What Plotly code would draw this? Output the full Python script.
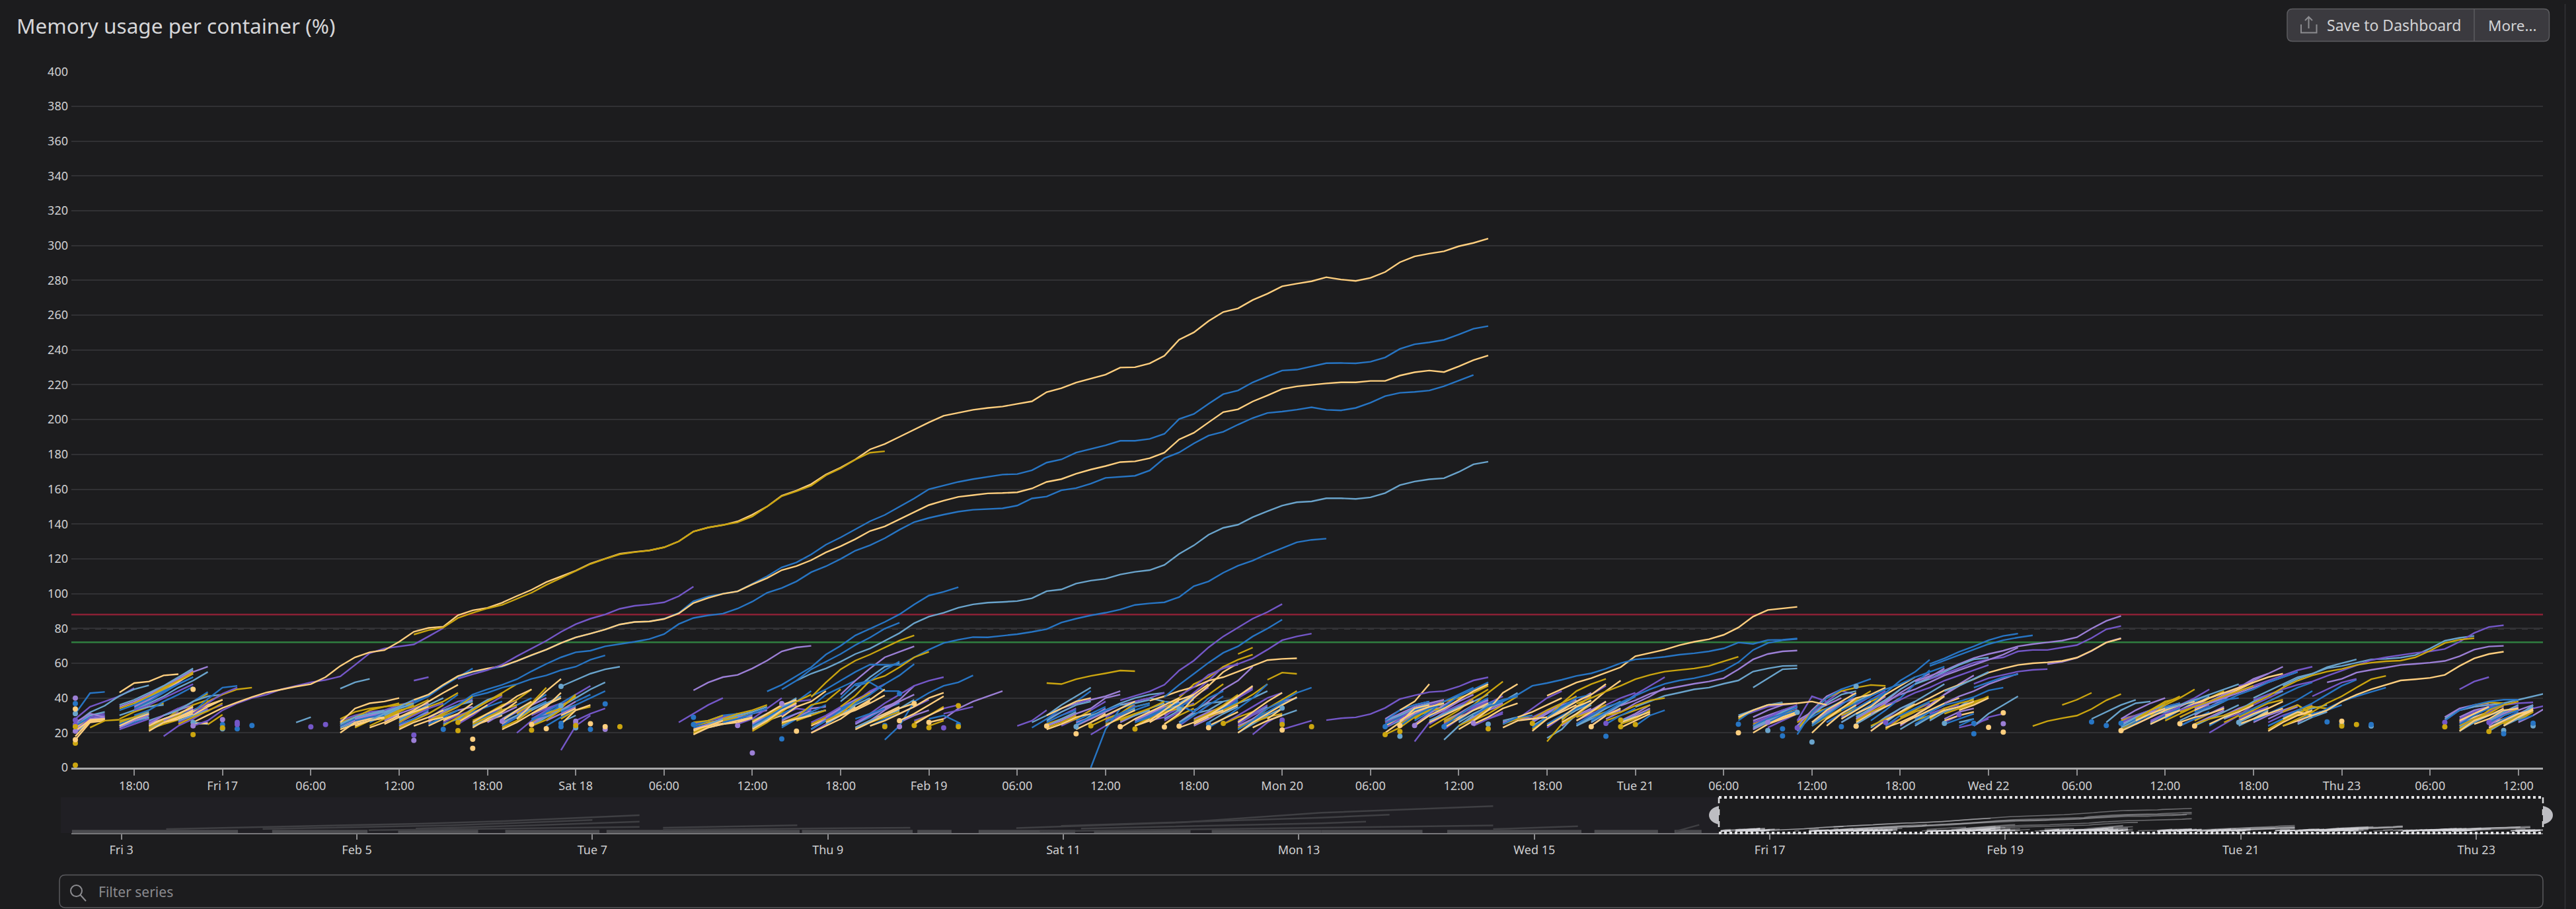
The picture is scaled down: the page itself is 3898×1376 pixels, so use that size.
import pandas as pd
import plotly.graph_objects as go

W, H = 3898, 1376

# every series: (start hour counted from Feb 16 00:00, hourly values in %)
yellow_long = [
    (22, [26, 30, 34.3, 37.5, 40.6, 43.2, 45, 46.6, 48, 52, 58.4, 63.4, 66.3, 67.5, 72.3, 78.1, 80.3, 81, 87.6, 90.4,
          91.8, 94.8, 98.6, 102.2, 106.6, 110, 113.2, 117.3, 120.1, 122.9, 124, 124.8, 126.6, 130, 135.7, 138, 139.4,
          141.5, 145.4, 150, 156.3, 159.2, 162.9, 168.4, 172.4, 177.1, 182.9, 186, 190.1, 194.3, 198.4, 202.2, 203.8,
          205.6, 206.7, 207.5, 209, 210.5, 215.8, 218, 221.3, 223.5, 225.8, 229.9, 230.1, 232.3, 236.7, 245.9, 250.1,
          256.6, 261.8, 263.9, 268.7, 272.3, 276.6, 278.1, 279.5, 281.8, 280.5, 279.7, 281.4, 284.8, 290.4, 293.8,
          295.4, 296.7, 299.6, 301.5, 304]),
    (37, [39, 42, 47.6, 52.6, 55.2, 57, 58.4, 61.3, 64.7, 67.8, 71.6, 74.8, 77, 79.4, 82.3, 83.7, 84, 85.4, 88.6, 94.6,
          97.5, 99.9, 101.3, 105.3, 108.9, 113.5, 115.8, 119.2, 123.7, 127.2, 131.3, 136, 138.6, 142.7, 147.1, 150.9,
          153.4, 155.6, 156.6, 157.6, 157.8, 158.2, 160.4, 164.2, 165.8, 168.9, 171.3, 173.3, 175.6, 176, 177.8, 181,
          188.6, 192.4, 198.4, 204.3, 205.9, 210.4, 213.9, 217.6, 219.1, 220, 220.8, 221.4, 221.4, 222.2, 222.2,
          225.3, 227.2, 228.2, 227.3, 230.6, 234.2, 236.8]),
    (87, [38.5, 41, 44, 46.3, 50, 52, 55.2, 58.4, 61.8, 62.5, 62.8]),
    (114, [41.3, 45, 48.9, 51.4, 54.6, 57.7, 64, 66, 67.8, 70.4, 72.3, 73.8, 76.3, 80.5, 86.8, 90.6, 91.6, 92.4]),
    (139, [36, 40, 44.4, 47.6, 50.8, 54.6, 57, 59, 60, 60.5, 61.3, 63.2, 67.2, 71.9, 74.2]),
    (164, [24, 27, 30, 33, 38.1, 41.9, 45, 47.6, 50.1, 50.8, 51.6, 53.3, 58.4, 62.8, 65.3, 66.6]),
    (158, [37, 40, 43, 46, 49, 52, 54]),
]
gold_long = [
    (22, [31, 38, 42, 45, 46]),
    (37, [76.5, 79, 80.5, 86, 89, 91.5, 93.5, 97, 100.5, 105, 109, 113, 117, 120, 122.6, 123.8, 124.8, 126.6, 130,
          135.7, 138, 139.4, 141, 144.4, 150, 156, 158.8, 162, 168, 172, 177, 181, 181.8]),
    (80, [48.6, 48, 50.8, 52.7, 54.2, 55.8, 55.4]),
    (95, [50.5, 54.6, 53.9]),
    (93, [65.3, 69]),
    (116, [36.8, 40, 43.8, 47, 50.8, 53.3, 55.2, 56.1, 57, 58.4, 60.9, 63.7]),
    (118, [29.9, 31.8, 35.6, 38.7, 40]),
    (147, [23.9, 26.7, 28.4, 29.9, 33.7, 38.7, 42.3]),
    (158, [25, 28, 30, 33, 37, 41, 46, 50, 53, 55.2, 56.7, 59, 60.3, 61.1, 61.5, 63.4, 67.2, 71.6, 73.5, 74.4]),
    (164, [24, 28, 32, 37, 41, 46, 50.8, 52.7]),
    (64, [40.6, 48.9, 56.5, 61.5, 65, 69, 73, 76]),
    (66, [35, 41.3, 50, 52.7, 57.7, 63.4, 66.6]),
    (17, [34, 37, 41, 45, 50, 54]),
    (157, [32, 35, 38, 41, 44, 47]),
]
blue_long = [
    (37, [37, 41, 47, 52, 55, 56.6, 58, 61.3, 64.7, 67.8, 71.6, 74.8, 77, 79.4, 82.3, 83.7, 84, 85.6, 88.9, 95.6, 98.4,
          100, 101.3, 105.7, 110, 115.1, 117.9, 122.5, 128.1, 132.3, 136.8, 141.6, 145.2, 149.9, 154.7, 160, 162,
          164.2, 165.8, 167.2, 168.4, 168.7, 170.9, 175.3, 177.1, 181, 183.2, 185.2, 187.8, 187.8, 188.9, 191.8,
          200.3, 203.2, 209.1, 214.6, 216.7, 221.4, 224.9, 228.2, 228.7, 230.5, 232.4, 232.5, 232.3, 233.2, 235.7,
          240.6, 243.3, 244.4, 245.8, 248.9, 252.2, 253.7]),
    (40, [36, 42, 45, 47.6, 50.8, 55.4, 59.6, 63.4, 66.3, 67.2, 69.7, 71, 72.3, 73.9, 76.7, 82.5, 86, 87.5, 88.5, 91.4,
          95.4, 100.5, 103.2, 107, 112.3, 115.7, 119.9, 124.7, 127.8, 131.8, 136.7, 141.1, 143.5, 145.4, 147.1, 148.2,
          148.7, 149, 150.6, 154.7, 155.8, 159.4, 160.6, 163.2, 166.5, 167.1, 167.7, 170.8, 177.8, 181.1, 186.3,
          190.8, 193, 197.1, 200.9, 203.8, 204.6, 205.7, 207.1, 205.6, 205.3, 206.7, 209.7, 213.5, 215.4, 215.9,
          216.7, 219.2, 222.4, 225.6]),
    (64, [41, 45, 50, 55, 59.2, 59, 59, 63.4, 67.8, 71.6, 73.5, 75, 74.9, 75.8, 76.7, 78, 79.6, 83.4, 85.6, 87.5, 89,
          90.9, 93.5, 94.4, 95, 98, 104.3, 107, 112, 116, 119, 122.8, 126, 129.5, 130.9, 131.6]),
    (61, [43.8, 47.6, 52.7, 57.7, 65, 70, 76, 79.9, 83.7, 88.1, 93.8, 98.9, 101, 103.7]),
    (62, [45, 50, 56.5, 60.9, 65.3, 70.4, 74.8, 79.9, 83.3]),
    (88, [40.6, 47.6, 53.9, 60.3, 66, 69.7, 75.4, 79.9, 85]),
    (110, [34.9, 38.1, 41.9, 47, 48.6, 50.5, 52.7, 54.2, 56.8, 60, 62.2, 62.8, 63.7, 64.9, 65.7, 66.8, 68.5, 71.9, 71.1,
           73.3, 73.5, 74.2]),
    (118, [34.9, 37.5, 41.3, 45, 48.2, 50.1, 51.4, 53.3, 55.8, 60.5, 67.6, 71.6, 73.2, 73.9]),
    (140, [59.6, 62.8, 66.6, 69.7, 73.2, 75.7, 77]),
    (140, [58.4, 61.5, 64.7, 67.8, 71, 73.2, 74.8, 76]),
    (142, [38, 40.6, 44.4, 46]),
    (143, [46, 49, 52, 53.7]),
    (41, [41, 43, 46, 48, 51, 53, 56, 58, 62, 64.5]),
    (66, [40, 48, 50, 56, 61]),
    (17, [33, 36, 40, 44, 48, 52]),
    (134, [33, 37, 41, 45, 48, 52, 55, 58]),
    (158, [32, 35, 38, 42, 45, 49, 52, 55]),
]
purple_long = [
    (22, [24, 27, 33, 37, 40, 42, 45, 47, 49, 50.4, 52.4, 59, 65.7, 68.5, 69.7, 70.8, 75.4, 80.2]),
    (22, [31, 37, 42.5, 46]),
    (40, [51, 53.7, 56, 59.2, 64, 68.5, 72.9, 78, 82.4, 85.6, 88, 91.3, 93, 93.8, 95, 98.5, 104]),
    (85, [38.7, 41.3, 43.8, 47.6, 55.8, 61.5, 69.1, 75.4, 80.5, 85.6, 89.4, 94]),
    (89, [41.3, 46.3, 53.3, 57, 59.6, 62.8, 67.8, 73.2, 75.4, 77]),
    (99, [27.3, 28.4, 28.9, 30.8, 34.3, 39.4, 41.5, 43.4, 44, 46.6, 50.1, 51.9]),
    (140, [50.8, 53.9, 57, 60.3, 62.2, 63.4, 66.8, 67.6, 67.6, 68.9, 70.4, 74.5, 79.5, 81.4]),
    (143, [48.2, 51.4, 53.3, 55.2, 56.2, 56.6]),
    (162, [39, 42, 45, 47.6, 49.5, 52.7, 55.8, 59, 61.8, 63.4, 64.7, 65.9, 66.8, 68.2, 72.3, 77.4, 80.8, 81.8]),
    (166, [41, 45, 48.9, 51]),
    (176, [45, 49.5, 52]),
    (137, [36, 39, 43, 46, 50, 53, 56, 59]),
    (157, [33, 36, 38, 41, 44, 47, 50, 53, 56, 58]),
]
lavender_long = [
    (56, [44.4, 48.9, 52, 53.3, 57, 61.5, 66.8, 69.1, 70]),
    (66, [42, 50, 57, 63.4, 66.6, 69.7]),
    (119, [35.6, 38.7, 42.5, 45, 46.6, 48.2, 49.5, 51.4, 56.5, 62.2, 65.3, 66.8, 67.3]),
    (139, [49.5, 52.7, 55.8, 59.6, 63, 65.3, 67.2, 69.7, 71, 72, 73, 74.9, 79.9, 84.3, 87.2]),
    (148, [59.5, 60.8, 63.1, 67, 72, 74.4]),
    (167, [49, 51, 54.6, 56.2, 57.5, 59, 59.6, 60.3, 61.3, 64, 67.8, 69.6, 70]),
    (17, [35, 38, 42, 47, 51, 56]),
    (138, [42, 45, 49, 53, 56, 59, 62, 65, 69]),
    (141, [37, 41, 44, 48, 51, 54]),
    (158, [34, 37, 40, 43, 46, 49, 52, 55]),
]
steel_long = [
    (63, [50, 54, 57, 60.9, 65.3, 68.5, 72.9, 77.3, 83, 86.8, 89, 91.9, 93.8, 94.8, 95.2, 95.7, 97.3, 101.4, 102.4,
          105.8, 107.5, 108.5, 111, 112.5, 113.5, 116.5, 122.8, 127.7, 133.8, 137.8, 139.6, 143.9, 147.3, 150.6,
          152.5, 153, 154.8, 154.8, 154.4, 155.3, 157.8, 162.3, 164.4, 165.7, 166.3, 169.9, 174.3, 175.8]),
    (47, [46.7, 50.5, 54, 56.5, 58]),
    (32, [45.4, 49, 51]),
    (120, [34.9, 38.1, 41.3, 43.1, 45, 46, 48.2, 50.1, 55.2, 57, 58.4, 58.6]),
    (128, [46, 51.4, 56.5, 57]),
    (139, [48, 51, 55, 59, 62.2, 63.2]),
    (162, [40, 44, 48, 52, 54, 57.1, 58.4, 60.3, 62.2, 62.5, 63.2, 64.7, 68.5, 72.9, 74.6, 75.7]),
    (164, [47, 51, 53.9, 57.7, 60, 62.2]),
    (17, [36, 39, 43, 47, 52, 57]),
    (141, [44, 47, 51, 55]),
    (156, [34, 36, 39, 42, 45, 48]),
]

yellow_short = [
    (14, [16, 26, 27]), (14, [18, 27, 28]), (14, [21, 27.5, 28]), (17, [43.2, 48.6, 49.5, 53, 53.7]),
    (17, [24, 28, 31]), (18, [36, 40, 45, 49.5, 54]), (19, [21, 26, 28, 31]), (19, [24, 28, 31, 35]),
    (20, [26, 29, 33]), (21, [29, 32, 36, 39]), (22, [25, 25.5]), (22, [30.5, 35, 39]),
    (32, [20, 26, 28, 29, 31]), (32, [26, 34, 37, 38, 40]), (33, [24, 27, 28.5]), (34, [23, 26, 30]),
    (35, [25, 29, 32, 35]), (36, [22, 26, 29, 33]), (36, [29, 33, 38, 43, 47.6]), (37, [24, 27, 29]),
    (38, [24, 28, 31]), (39, [27, 31, 37]), (40, [26, 31, 36]), (41, [23, 28, 32, 38]), (41, [26, 31, 35, 41, 45]),
    (43, [22, 26, 31, 36, 40]), (43, [27, 33, 38]), (44, [28, 36, 44, 51]), (45, [31, 35, 43]),
    (47, [30, 34]), (47, [25, 33, 36]),
    (56, [19, 23, 25, 27, 29]), (56, [22, 24, 27]), (58, [25, 26, 28.5]), (60, [22, 27, 33, 37]), (60, [26, 31, 36, 39]),
    (62, [29, 35, 38, 44]), (62, [26, 28, 30]), (64, [20, 24, 28, 34, 39, 45]), (65, [26, 30, 34, 38]),
    (66, [30, 33, 37, 41.5]), (67, [22, 26, 30, 34, 37]), (68, [24, 27, 31, 35, 40, 43]), (70, [27, 31, 36, 41]),
    (71, [25, 30, 34]), (72, [26, 28]),
    (80, [22, 25, 29, 31]), (80, [30, 34, 38, 40]), (82, [22, 26, 31]), (83, [26, 30, 34, 38]), (84, [24, 29, 33]),
    (85, [23, 28, 32, 36, 40]), (86, [24, 27, 33, 39, 42]), (87, [26, 31, 36, 42, 48]), (88, [25, 31, 40, 47, 55, 60]),
    (89, [23, 26, 30, 33]), (90, [26, 30, 35, 41, 47]), (91, [24, 28, 32]), (93, [20, 26, 31, 36, 40.5]), (93, [26, 32, 38, 43]),
    (95, [28, 34]), (94, [23, 27, 30]),
    (103, [20, 26, 34, 36]), (104, [27, 32, 35, 37]), (104, [33, 38, 48]), (105, [24, 30, 34, 39, 44, 48]),
    (106, [26, 30, 34, 38]), (107, [23, 28, 33, 37]), (108, [22, 27, 33, 43, 48]), (109, [25, 29, 34, 37]),
    (111, [23, 27, 28, 29]), (112, [29, 32, 36, 40]), (113, [21, 28, 33, 38, 42, 48]), (114, [24, 29, 35, 38.5]),
    (115, [26, 31, 37, 44, 50]), (116, [27, 32, 38]), (117, [24, 30, 34]), (119, [26, 29, 32]),
    (127, [29, 33, 36, 36.5, 37]), (128, [20, 25, 29, 32]), (129, [25, 28, 31]),
    (131, [37, 38, 36]), (132, [20, 28, 34, 40, 42, 46]), (132, [26, 33, 38, 43]), (133, [24, 31, 36]), (134, [28, 33, 38]),
    (135, [31, 35, 42, 47, 52]), (136, [21, 27, 32, 36.5]), (137, [23, 26, 30, 35, 41]), (138, [25, 29, 33, 37, 40]),
    (140, [29, 33, 35, 38]), (141, [27, 30, 32]), (142, [33, 36, 40]),
    (153, [21, 25, 29, 33, 36, 38]), (154, [27, 31, 34]), (155, [25, 29, 33, 37]), (156, [30, 33, 36, 40, 43]),
    (157, [26, 29, 31, 34]), (158, [33, 37, 41, 45, 49]), (159, [25, 29, 32, 36]), (161, [27, 31, 34, 38]),
    (162, [28, 31, 34]), (163, [21, 26, 30, 33]), (164, [28, 32, 30]), (165, [30, 32]),
    (176, [21, 27, 30, 34]), (176, [27, 31, 35]), (177, [25, 28, 33, 34]), (178, [23, 27, 31, 33]), (179, [24, 29, 34]),
    (180, [29, 33]),
]
gold_short = [
    (14, [22, 27, 27.5]), (15, [23, 27, 27.5]), (17, [26, 29, 33]), (17, [28, 32, 35, 37]), (18, [37, 41, 46, 50, 55]),
    (19, [23, 27, 33, 38, 42.5]), (19, [22, 25, 27.5]), (20, [26, 30, 36, 39]), (21, [25, 29, 32.5, 37]),
    (23, [24.8, 30.5]), (32, [25, 29, 33, 35, 36, 37]), (32, [28, 32, 34, 35, 37]), (33, [23, 27, 29]),
    (34, [24, 28, 32, 36]), (35, [29, 33, 35, 39]), (36, [23, 27, 31, 36]), (36, [26, 31, 35, 38, 43]),
    (38, [27, 31, 35, 41]), (39, [24, 29, 33, 38, 42]), (40, [26, 33, 38, 43, 48]), (41, [25, 29, 33, 36]),
    (42, [31, 36, 39, 45]), (43, [23, 27, 33]), (44, [31, 37, 46]), (45, [24, 27.5, 33]), (47, [35, 41]), (47, [28, 33, 35]),
    (46, [31, 34, 42]),
    (56, [20, 24, 27, 29]), (56, [26, 27, 30]), (58, [28, 31, 33, 36]), (60, [21, 26, 32, 38, 42]), (60, [27, 30, 35]),
    (62, [25, 29, 36, 38, 45]), (63, [27, 30, 33]), (65, [27, 31, 38, 43]), (68, [26, 29, 32]), (71, [26, 30, 35]),
    (72, [24, 27]),
    (80, [23, 26, 30]), (81, [25, 28, 33]), (83, [24, 28, 31, 37]), (84, [26, 31, 35, 37]), (85, [27, 31, 34, 38]),
    (86, [24, 29, 34, 40]), (87, [28, 32, 34, 36, 42, 48]), (88, [31, 40, 48, 52, 58, 62, 65]), (90, [27, 31, 36, 42]),
    (91, [29, 33, 37, 42, 48]), (92, [25, 29, 32]), (93, [22, 27, 34, 39, 44]), (94, [26, 29, 31]),
    (103, [19, 23, 29, 33, 34]), (104, [25, 30, 34, 38]), (105, [28, 34, 38, 40, 43, 47]), (106, [23, 28, 33, 40, 45]),
    (107, [26, 30, 36, 43, 49.5]), (108, [24, 28, 34, 39]), (109, [27, 31, 36, 41]),
    (111, [25, 28, 30]), (113, [22, 28, 37, 44, 48, 51]), (113, [28, 33, 37, 41]), (114, [15, 25, 30, 37]), (115, [27, 35, 41]),
    (116, [29, 32, 36]), (118, [27, 30, 33, 36]), (119, [25, 28, 33]),
    (127, [28, 33, 36, 37]), (129, [26, 29, 31]), (131, [22, 32, 40, 44, 46, 47.5, 47]), (132, [24, 29, 34, 37]),
    (133, [28, 33, 39, 44]), (134, [30, 34, 38, 42]), (135, [27, 32, 36]), (136, [24, 28, 31, 36]), (137, [22, 28, 32, 35]),
    (138, [29, 33, 38, 41]), (140, [28, 34, 37, 39]), (141, [31, 34, 37]), (142, [34, 38, 40.5]), (143, [37, 41]),
    (149, [36, 39, 43]),
    (153, [22, 26, 33, 38, 40]), (154, [28, 33, 37, 41]), (155, [30, 36, 40, 45]), (156, [27, 31, 35, 40, 44]),
    (157, [29, 33, 37]), (160, [26, 30, 34, 38, 42]), (161, [29, 33, 37, 39]), (163, [22, 27, 31, 35, 34]),
    (164, [32, 36, 30]), (164, [27, 33, 35.5]), (165, [36, 31]),
    (176, [24, 28, 31, 36, 38]), (176, [22, 27, 33, 37]), (177, [36, 37.5, 37]), (178, [22, 26, 29, 32]), (179, [25, 30, 33]),
    (180, [27, 32]),
]
blue_short = [
    (14, [31, 42.8, 43.5]), (14, [24, 29, 30]), (17, [25, 28, 31]), (18, [34, 38, 43, 48, 52]), (19, [24, 27, 30, 33]),
    (20, [28, 31, 35]), (21, [33, 38, 43.5]), (18, [30, 33, 38, 42, 46.5]), (22, [32, 39.5, 46, 47]),
    (32, [24, 28, 30, 31, 33]), (33, [27, 29, 30]), (34, [26, 30, 35, 36]), (35, [29, 34, 36]), (36, [25, 28, 31, 36, 42]),
    (37, [38, 42, 47, 52, 57]), (38, [25, 29, 33]), (39, [31, 36, 40]), (40, [28, 32, 35, 38]), (41, [25, 30, 33]),
    (42, [29, 33, 36, 40]), (43, [24, 29, 33, 38]), (44, [33, 37, 42]), (45, [27, 32, 37, 42]), (46, [24, 29, 33]),
    (47, [32, 36, 40, 44]), (48, [38, 42]), (45, [28, 30, 36]),
    (56, [24, 27, 30, 31]), (58, [26, 28, 31, 34]), (60, [24, 29, 34, 38, 44]), (61, [27, 31, 35]), (62, [23, 28, 32, 36]),
    (63, [29, 35, 42, 46, 50]), (64, [22, 27, 33, 37, 42]), (66, [34, 38, 42, 48, 53, 59.5]), (67, [28, 31, 34]),
    (67, [47, 49, 44, 44]), (69, [16, 24, 38, 43, 47, 49, 53]), (72, [28, 30, 26]), (68, [24, 28, 31]),
    (79, [23, 28, 34, 38, 44]), (80, [26, 30, 33]), (82, [25, 29, 33, 36]), (83, [0, 22, 34, 37]), (84, [26, 31, 35, 37]),
    (85, [30, 33, 36]), (86, [26, 29, 34, 37]), (87, [30, 33, 35, 39]), (88, [38, 36, 32, 40, 44]), (89, [25, 30, 36, 41]),
    (90, [26, 30, 34, 38]), (91, [23, 28, 34, 40, 48]), (93, [22, 27, 34, 38, 43, 46]), (94, [27, 32, 37, 40]),
    (103, [27, 33, 36, 38]), (104, [24, 30, 34, 37]), (105, [27, 32, 38, 42, 46]), (106, [29, 35, 41, 45, 49]),
    (107, [24, 30, 36, 40]), (108, [27, 33, 37, 39]), (109, [30, 35, 39, 41]), (111, [25, 29, 30]),
    (113, [23, 29, 35, 40, 42]), (114, [25, 30, 34, 37]), (115, [29, 34, 39]), (116, [25, 30, 35]), (117, [27, 32, 37, 41]),
    (118, [25, 30, 34]), (120, [24, 30, 33]), (127, [27, 33, 36, 37]), (128, [24, 28, 31, 35]), (129, [26, 30, 33]),
    (131, [19, 32, 40, 45, 48, 51]), (132, [24, 30, 36, 42]), (133, [26, 31, 35]), (134, [28, 34, 39, 43]),
    (135, [30, 36, 43, 50, 55, 62]), (136, [27, 33, 40, 48, 56]), (137, [24, 30, 34, 38]), (139, [28, 32, 36, 38]),
    (141, [25, 28, 31]), (142, [24, 28]),
    (153, [21, 26, 31, 33]), (154, [27, 30, 35, 37]), (155, [25, 30, 34]), (156, [28, 33, 38, 42]), (157, [24, 28, 32]),
    (158, [35, 37, 39, 40]), (159, [24, 29, 33]), (161, [30, 34, 38, 42, 46, 49]), (162, [27, 31, 35, 39, 44]),
    (163, [24, 28, 32]), (164, [29, 33, 37, 42, 47, 50.5]), (165, [27, 31, 33, 36]), (166, [29, 34, 38, 41, 43.5, 46]),
    (175, [27, 33, 36, 38, 39, 39]), (176, [25, 30, 34, 37]), (178, [26, 30, 33]), (179, [24, 29, 33]), (180, [27, 30]),
]
purple_short = [
    (14, [28, 35, 38, 41, 45.7]), (14, [20, 29, 30]), (17, [22, 25, 28]), (19, [26, 30, 34, 37.5]), (20, [18, 24, 28, 33]),
    (22, [28, 33, 36]), (21, [26, 30, 34]), (18, [33, 36, 40, 44, 48]),
    (33, [26, 28.5, 30]), (34, [29, 33, 36, 38]), (36, [26, 30, 34, 37]), (37, [50, 52]), (38, [28, 34, 38, 40]),
    (39, [26, 30, 33]), (40, [25, 30, 36, 41]), (42, [30, 35, 39]), (43, [24, 30, 36, 40]), (44, [20, 27, 33, 37, 42, 47]),
    (45, [30, 34, 37]), (47, [10, 24, 30]), (48, [27, 31, 34]),
    (55, [26, 31, 36, 40]), (57, [27, 29, 31]), (59, [25, 28, 34, 40]), (61, [30, 35, 38, 39]), (62, [30, 34, 33]),
    (63, [28, 31, 33]), (64, [20, 25, 31, 38, 44, 48]), (65, [28, 33, 38]), (67, [26, 31, 37, 42, 47, 50, 52]),
    (69, [28, 31, 35, 39]), (71, [27, 30, 34, 36]), (73, [31, 33, 35]),
    (78, [24, 27, 33]), (80, [28, 32, 36, 40]), (81, [24, 28, 33, 38]), (83, [19, 24, 30, 36]), (84, [29, 34, 38, 40, 43]),
    (87, [27, 29, 36, 43, 50, 58, 59]), (88, [30, 34, 41, 46]), (89, [24, 30, 36]), (91, [29, 34, 40, 45]),
    (92, [25, 30, 35, 40, 43]), (94, [19, 26, 31]), (96, [22, 24.5, 27]), (93, [27, 31, 36]),
    (103, [23, 28, 34, 37]), (105, [15, 26, 32, 36, 40]), (106, [25, 30, 35, 39]), (107, [22, 28, 34, 37, 41]),
    (109, [24, 28, 31]), (110, [28, 32]), (112, [28, 34, 40, 44]), (113, [29, 33, 37]), (114, [23, 29, 35, 42, 47]),
    (116, [25, 30, 36, 40, 43]), (117, [26, 31, 36]), (118, [30, 36, 42, 47, 52]), (127, [29, 32, 35, 36]),
    (128, [24, 29, 33, 36]), (129, [23, 27, 31]), (131, [22, 31, 38, 44, 42]), (131, [27, 41, 38]),
    (133, [26, 31, 36, 41]), (134, [29, 34, 39, 44]), (136, [21, 28, 34, 38]), (137, [24, 28, 32]), (138, [29, 33, 37]),
    (140, [31, 34, 36]), (141, [26, 30]), (142, [23, 25, 28]), (143, [24, 29, 31]),
    (153, [26, 30, 33, 36]), (155, [27, 31, 35]), (156, [33, 36, 40, 45]), (157, [29, 33, 36]), (159, [20, 25, 30, 36, 40, 44]),
    (160, [28, 31, 33]), (161, [47, 49]), (163, [26, 30, 33, 36]), (165, [27, 30, 32]),
    (175, [27, 33, 35, 36, 37]), (176, [24, 28, 32, 36]), (178, [22, 27, 31, 34, 36]), (178, [35, 36, 37, 37.5]),
    (179, [25, 29, 33]), (180, [28, 33]),
]
lavender_short = [
    (14, [22, 28, 28.5]), (14, [26, 31, 29]), (17, [23, 27, 30]), (18, [35, 39, 44, 49, 55, 58]), (19, [25, 30, 33, 36]),
    (20, [27, 31, 34]), (21, [29, 33, 37]), (22, [25, 26]), (32, [24, 28, 30, 31, 34]), (33, [28, 30, 32]),
    (35, [27, 31, 34, 37]), (36, [24, 28, 32]), (38, [26, 32, 36, 39]), (39, [29, 33, 35]), (40, [27, 33, 38, 43]),
    (42, [26, 31, 35]), (43, [28, 32, 36, 40]), (45, [25, 30, 36, 40]), (46, [27, 31, 35]), (45, [27, 31, 33, 38]),
    (57, [25, 28, 31]), (58, [26, 28, 31, 33]), (60, [25, 30, 34, 37]), (61, [29, 33, 36]), (62, [27, 31, 34, 35]),
    (64, [22, 28, 34, 39, 43, 48]), (65, [29, 34, 37]), (67, [25, 30, 34, 39, 47]), (68, [27, 33, 38, 42]),
    (70, [26, 30, 33]), (73, [28, 34, 38, 41, 44]),
    (80, [24, 27, 31, 34, 40, 42]), (80, [30, 34, 37, 39, 41, 44]), (82, [24, 28, 33]), (83, [28, 32, 36, 38, 40]),
    (85, [26, 30, 33]), (86, [28, 32, 35, 38]), (87, [29, 33, 36, 42]), (89, [26, 32, 38, 45, 50, 58]), (90, [28, 32, 35]),
    (91, [30, 35, 41, 46]), (93, [24, 28, 34, 38, 40]), (94, [28, 31]),
    (103, [28, 33, 36, 38]), (104, [26, 31, 35]), (105, [25, 31, 36, 41]), (106, [29, 33, 38, 42]), (107, [26, 31, 36, 39]),
    (108, [24, 29, 34, 37]), (109, [29, 33, 36]), (111, [26, 28, 28.5]), (113, [26, 31, 37, 41]), (114, [28, 33, 38, 43]),
    (115, [24, 30, 34]), (116, [29, 33, 38]), (117, [24, 30, 33]), (118, [28, 32, 37, 41, 46]), (119, [27, 31, 36]),
    (128, [22, 27, 31, 35]), (128, [29, 33, 36, 37]), (131, [24, 33, 41, 45]), (132, [26, 32, 37, 40]),
    (133, [29, 34, 39]), (134, [26, 31, 35, 41]), (135, [28, 33, 38, 45, 50, 54]), (136, [31, 37, 43, 48, 52, 57]),
    (138, [24, 30, 36, 42, 47]), (139, [30, 35, 42, 48, 53]), (141, [28, 32, 34]),
    (153, [28, 33, 37, 40]), (154, [25, 29, 33]), (155, [26, 31, 35, 39]), (157, [24, 28, 31, 35]), (158, [30, 35, 39, 46, 50, 54]),
    (159, [38, 42, 46, 51, 54, 58]), (160, [30, 34, 37]), (162, [26, 30, 33, 36]), (163, [28, 32, 35]), (165, [26, 31, 33]),
    (175, [29, 34, 36, 37]), (176, [26, 31, 34, 35]), (178, [24, 30, 33, 36]), (179, [27, 31, 35]), (180, [26, 30, 35]),
]
steel_short = [
    (14, [24, 30, 32]), (14, [25.4, 31.8, 35.6, 41.3, 45, 47.3]), (17, [24, 27, 29]), (17, [30, 33, 35, 36]),
    (18, [33, 37, 41, 46, 50, 55]), (19, [22, 26, 29, 32]), (20, [30, 33, 38, 41, 42]), (21, [27, 30, 33]), (22, [26, 25]),
    (29, [26, 29]), (32, [25, 29, 31, 32, 35]), (33, [29, 31, 33]), (34, [27, 31, 35, 39]), (35, [30, 34, 37]),
    (36, [28, 32, 36, 40]), (38, [29, 33, 36, 38]), (39, [25, 28, 31]), (40, [28, 34, 39, 42]), (41, [24, 28, 31]),
    (43, [26, 30, 34, 38]), (44, [28, 33, 37, 41]), (45, [24, 29, 33, 36]), (46, [31, 35, 40, 45, 49]), (47, [26, 30]),
    (57, [25, 28, 30, 32]), (58, [27, 30, 32, 35]), (60, [23, 28, 34, 39]), (61, [31, 35, 40]), (62, [24, 28, 31, 33]),
    (63, [27, 31, 33]), (65, [25, 30, 36, 40]), (67, [23, 27, 30, 34, 39]), (68, [26, 30, 33]), (66, [38, 45, 52, 58, 60]),
    (79, [26, 30, 36, 41, 46]), (80, [27, 32, 36, 38]), (82, [24, 30, 33, 37, 40, 42, 43]), (84, [33, 36, 37, 39]),
    (85, [27, 30, 33]), (86, [30, 34, 37]), (87, [40, 38, 37, 42]), (88, [33, 36, 41]), (89, [26, 31, 33, 38]), (90, [33, 37, 38, 40]),
    (91, [26, 31, 35]), (92, [35, 37, 40, 44]), (93, [20, 25, 30, 34]), (95, [27, 30, 33]),
    (103, [27, 30, 34, 37]), (104, [25, 29, 33]), (105, [29, 33, 38, 41]), (106, [27, 31, 35, 38, 42]), (107, [16, 24, 30, 36, 38]),
    (108, [26, 31, 35]), (109, [28, 34, 38, 43]), (111, [27, 29]), (113, [24, 29, 34, 38]), (114, [17, 22, 31, 36]),
    (115, [28, 33, 37]), (116, [24, 29, 34, 38]), (117, [26, 31, 36, 41]), (119, [27, 29.5]),
    (127, [30, 33, 36, 37.5]), (128, [23, 27, 32, 35]), (129, [25, 29, 32]), (131, [21, 30, 37, 42, 44]), (132, [25, 31, 36]),
    (133, [28, 33, 38, 42]), (134, [26, 31, 36]), (135, [29, 34, 39, 45, 50]), (136, [23, 29, 34, 38]), (137, [26, 32, 38, 43, 48]),
    (138, [22, 27, 32, 36]), (140, [27, 32, 35, 40]), (142, [26, 28]), (143, [24, 31, 36, 41]), (151, [28, 32, 36, 39]),
    (152, [26, 33, 37, 38]),
    (153, [24, 29, 33, 36]), (155, [25, 29, 33]), (156, [29, 33, 36, 41]), (157, [27, 31, 34, 38]), (158, [24, 28, 32, 36]),
    (160, [28, 33, 38, 42, 44]), (161, [26, 30, 34]), (163, [24, 28, 31, 35]), (164, [28, 32, 34, 36]), (165, [25, 29, 32]),
    (175, [28, 33, 35, 36]), (176, [21, 26, 30, 33]), (178, [21, 26, 30, 35]), (178, [36, 37, 39, 41, 43]), (179, [24, 28, 33]),
    (180, [30, 36]),
]

# flatter rows that fill up the dense blocks
yellow_rows = [
    (14, [23, 27, 27.5]), (17, [25, 27, 28.5]), (19, [25, 28, 31]), (32, [22, 25, 27, 28.5, 30]), (36, [25, 28, 31]),
    (41, [24, 27, 30]), (43, [25, 29, 33]), (56, [21, 24, 25.5, 27, 28]), (60, [24, 27, 30]), (64, [24, 28, 31, 35]),
    (67, [23, 27, 31, 35]), (82, [25, 28, 32]), (86, [24, 28, 31]), (90, [25, 29, 32, 36]), (103, [24, 28, 31, 33, 35]),
    (107, [25, 29, 33, 36]), (113, [24, 28, 32, 36]), (119, [23, 27, 31]), (128, [24, 27, 30, 32]), (135, [26, 31, 35, 39]),
    (153, [25, 28, 31, 33, 35]), (161, [25, 28, 32]), (178, [25, 28, 31]), (176, [26, 29, 32]),
]
gold_rows = [
    (14, [24, 27.5, 28]), (17, [27, 29, 31]), (19, [24, 27, 30]), (32, [26, 29, 31, 32, 34]), (38, [27, 30, 33]),
    (41, [27, 31, 34]), (45, [26, 30, 34]), (56, [24, 26, 27.5, 29, 31]), (62, [26, 29, 32]), (64, [25, 29, 33, 36]),
    (80, [25, 28, 31]), (84, [25, 28, 31]), (88, [25, 30, 34]), (93, [23, 28, 32]), (103, [26, 30, 33, 35, 36]),
    (107, [27, 31, 35, 37]), (116, [25, 29, 32]), (128, [25, 28, 31, 33]), (131, [26, 31, 34, 37]), (139, [27, 30, 34]),
    (153, [27, 30, 32, 34, 36]), (158, [27, 31, 34]), (176, [27, 31, 34]), (178, [26, 30, 34]),
]
blue_rows = [
    (14, [21, 27, 28]), (17, [23, 26, 29]), (21, [26, 31]), (32, [25, 28, 30, 32, 33]), (36, [24, 28, 33]), (38, [25, 29, 33]),
    (43, [27, 32, 36]), (56, [23, 25, 27, 28, 30]), (60, [25, 29, 33]), (62, [28, 31, 34]), (67, [25, 29, 34, 37]),
    (82, [27, 31, 35]), (86, [26, 30, 34]), (90, [27, 31, 35, 39]), (103, [25, 29, 33, 36, 38]), (107, [23, 28, 33, 37]),
    (113, [26, 31, 35, 38]), (119, [25, 29, 33]), (131, [24, 29, 34, 38]), (139, [25, 30, 34]), (153, [24, 28, 31, 33, 35]),
    (161, [27, 31, 35]), (176, [24, 29, 32]), (178, [23, 28, 32]),
]
purple_rows = [
    (14, [26, 30, 31]), (19, [22, 27, 32]), (21, [28, 32]), (32, [27, 30, 32, 33, 35]), (36, [26, 30, 34]), (41, [25, 30, 35]),
    (45, [28, 33, 37]), (56, [25, 27, 28.5, 30, 32]), (60, [26, 30, 34]), (64, [26, 30, 35, 39]), (80, [26, 30, 34]),
    (84, [27, 30, 33]), (88, [27, 32, 37]), (93, [25, 30, 34]), (103, [26, 30, 34, 36, 38]), (107, [25, 30, 35, 38]),
    (116, [27, 31, 34]), (128, [26, 29, 32, 34]), (135, [28, 33, 38, 42]), (153, [28, 30, 33, 35, 37]), (158, [28, 31, 34]),
    (176, [28, 32, 35]), (178, [25, 30, 34]), (161, [28, 32, 35]),
]
lavender_rows = [
    (14, [25, 28, 29]), (17, [24, 28, 31]), (19, [26, 30, 34]), (32, [24, 27, 29, 31, 33]), (38, [28, 31, 35]), (43, [24, 29, 34]),
    (45, [25, 31, 35]), (56, [22, 25, 27, 29, 30]), (60, [23, 27, 32]), (62, [25, 29, 33]), (67, [26, 30, 35, 38]),
    (82, [26, 29, 34]), (86, [27, 31, 35]), (90, [24, 28, 33, 37]), (103, [27, 31, 35, 37, 39]), (113, [27, 32, 36, 39]),
    (119, [26, 30, 34]), (128, [27, 30, 33, 35]), (131, [27, 32, 36, 40]), (139, [28, 32, 36]), (153, [25, 29, 32, 34, 37]),
    (158, [25, 29, 33]), (176, [29, 33, 35]), (178, [26, 31, 35]),
]
steel_rows = [
    (14, [20, 27, 27.5]), (17, [26, 29, 32]), (19, [27, 30, 33]), (32, [23, 26, 28, 30, 32]), (36, [27, 31, 35]), (41, [26, 30, 33]),
    (43, [28, 33, 37]), (56, [20, 23, 25, 27, 29]), (60, [27, 31, 35]), (64, [22, 27, 32, 37]), (80, [24, 28, 32]),
    (84, [28, 31, 34]), (88, [28, 33, 37]), (93, [26, 31, 35]), (103, [23, 27, 30, 32, 34]), (107, [26, 31, 35, 39]),
    (116, [24, 28, 31]), (128, [22, 26, 29, 31]), (135, [25, 30, 35, 40]), (153, [23, 27, 30, 32, 34]), (161, [24, 28, 33]),
    (176, [23, 27, 31]), (178, [27, 32, 36]), (139, [24, 29, 33]),
]

yellow_dots = [(14, 16), (14, 33.7), (22, 45), (41, 16.3), (41, 11.1), (45, 24.8), (46, 22.4), (49, 25.2), (50, 23.5),
               (63, 21), (70, 27), (71, 36.8), (72, 26), (80, 23.9), (82, 19.5), (85, 23.5), (88, 23.3), (89, 23.8),
               (91, 23), (96, 21.6), (104, 24.2), (117, 23.5), (127, 20), (135, 23.8), (144, 23.2), (145, 31.5),
               (145, 20.4), (153, 21.3), (157, 25.2), (158, 23.9), (168, 26.7)]
gold_dots = [(14, 1.4), (14, 14), (14, 23.5), (22, 19), (24, 22.9), (40, 21.3), (40, 26), (45, 21.5), (48, 24.2), (51, 23.5),
             (69, 23.5), (71, 24.2), (72, 23), (74, 35.6), (74, 23.5), (83, 24), (86, 22.2), (92, 25.4), (96, 24.8), (98, 23.5),
             (103, 19), (104, 20.8), (110, 22.3), (113, 25.4), (119, 27.3), (119, 23.5), (120, 24.8), (168, 23.9),
             (169, 24.8), (175, 23.4), (178, 20.8)]
blue_dots = [(14, 36.8), (24, 24.8), (25, 22.3), (26, 24.2), (39, 22), (47, 25.4), (47, 23.5), (49, 22), (50, 36.6), (56, 28.9),
             (56, 24.8), (62, 16.5), (69, 24.2), (70, 42.5), (74, 24.8), (91, 25), (96, 26), (103, 23.5), (107, 23.5),
             (118, 18), (127, 25), (130, 22.3), (130, 18.2), (134, 23.5), (135, 23.8), (143, 25.4), (143, 19.5), (151, 26.3),
             (152, 24.2), (153, 25.5), (167, 26.3), (170, 24.8), (179, 19.5), (181, 25.5)]
purple_dots = [(14, 27.3), (14, 24.8), (25, 26), (25, 24.8), (30, 23.4), (31, 24.8), (37, 18.7), (48, 25.5), (73, 22.9), (96, 27.3),
               (118, 25.4), (131, 22.9), (137, 26), (142, 30.5), (175, 26), (178, 26)]
lavender_dots = [(14, 40), (14, 21), (22, 24), (24, 27.6), (37, 15.7), (43, 26.7), (48, 26.7), (50, 22), (59, 24.2), (60, 8.4),
                 (62, 36.8), (70, 23.5), (105, 24.2), (109, 25.5), (129, 26), (145, 25.2)]
steel_dots = [(14, 31), (22, 26), (24, 22.3), (47, 46.7), (47, 35.6), (48, 22.9), (82, 23.5), (89, 33.7), (96, 34.3), (104, 18),
              (110, 25), (129, 21.4), (131, 31.8), (132, 14.7), (135, 46.7), (141, 25.4), (161, 26), (168, 25),
              (170, 23.9), (179, 21.4), (181, 24)]

main_ticks = [18, 24, 30, 36, 42, 48, 54, 60, 66, 72, 78, 84, 90, 96, 102, 108, 114, 120, 126, 132, 138, 144, 150, 156, 162,
              168, 174, 180]
main_tick_labels = ["18:00", "Fri 17", "06:00", "12:00", "18:00", "Sat 18", "06:00", "12:00", "18:00", "Feb 19", "06:00",
                    "12:00", "18:00", "Mon 20", "06:00", "12:00", "18:00", "Tue 21", "06:00", "12:00", "18:00", "Wed 22",
                    "06:00", "12:00", "18:00", "Thu 23", "06:00", "12:00"]
nav_tick_dates = ["2023-02-03", "2023-02-05", "2023-02-07", "2023-02-09", "2023-02-11", "2023-02-13", "2023-02-15",
                  "2023-02-17", "2023-02-19", "2023-02-21", "2023-02-23"]
nav_tick_labels = ["Fri 3", "Feb 5", "Tue 7", "Thu 9", "Sat 11", "Mon 13", "Wed 15", "Fri 17", "Feb 19", "Tue 21", "Thu 23"]

# older history that only shows in the navigator: (days after Feb 3, value)
nav_old_lines = [
    [(0.38, 48), (2.52, 115), (3.24, 147), (4.40, 221)],
    [(1.2, 50), (2.8, 95), (4.0, 160)],
    [(2.5, 56), (3.5, 95), (4.40, 140)],
    [(2.1, 35), (4.40, 75)],
    [(4.6, 66), (5.74, 95)],
    [(4.6, 40), (6.7, 66)],
    [(7.6, 62), (9.0, 130), (10.19, 250), (11.65, 333)],
    [(7.98, 88), (10.19, 190), (10.77, 227)],
    [(8.15, 56), (10.19, 120), (10.57, 141)],
    [(7.8, 21), (10.19, 66), (11.65, 93)],
    [(11.65, 48), (12.37, 83)],
    [(13.2, 21), (13.4, 101)],
]
nav_band_spans = [(-0.42, 0.99), (1.28, 2.09), (2.35, 3.03), (3.26, 4.06), (4.12, 5.76), (5.78, 6.72), (6.76, 7.05), (7.28, 8.1),
                  (8.26, 9.08), (9.26, 10.19), (10.19, 11.05), (11.26, 12.4), (12.51, 13.05), (13.19, 13.42)]

bg = "#1c1c1e"
yellow = "#ffcf7f"
gold = "#cba50f"
blue = "#2775c4"
purple = "#7457c8"
lavender = "#9c7fd6"
steel = "#6aa4cc"

base = pd.Timestamp("2023-02-16")
feb3 = pd.Timestamp("2023-02-03")


def hour_to_date(h):
    return base + pd.Timedelta(hours=h)


def px(x):
    return x / W


def py(y):
    return 1 - y / H


fig = go.Figure()

nav_x, nav_y = [], []


def add_segments(groups):
    # go round the colours so none of them sits on top of all the others
    for i in range(max(len(segs) for _, segs in groups)):
        for color, segs in groups:
            if i >= len(segs):
                continue
            start, vals = segs[i]
            xs = [hour_to_date(start + k) for k in range(len(vals))]
            fig.add_trace(go.Scatter(x=xs, y=vals, mode="lines", line=dict(color=color, width=2.4),
                                     hoverinfo="skip", showlegend=False))
            nav_x.extend(xs + [None])
            nav_y.extend(vals + [None])


add_segments([
    (gold, gold_rows + gold_short),
    (yellow, yellow_rows + yellow_short),
    (blue, blue_rows + blue_short),
    (steel, steel_rows + steel_short),
    (purple, purple_rows + purple_short),
    (lavender, lavender_rows + lavender_short),
])
add_segments([
    (steel, steel_long),
    (blue, blue_long),
    (purple, purple_long),
    (lavender, lavender_long),
    (gold, gold_long),
    (yellow, yellow_long),
])

for color, dots in [(steel, steel_dots), (blue, blue_dots), (purple, purple_dots), (lavender, lavender_dots),
                    (gold, gold_dots), (yellow, yellow_dots)]:
    fig.add_trace(go.Scatter(x=[hour_to_date(d[0]) for d in dots], y=[d[1] for d in dots], mode="markers",
                             marker=dict(color=color, size=8), cliponaxis=False, hoverinfo="skip", showlegend=False))

# navigator
band_x, band_y = [], []
for d0, d1 in nav_band_spans:
    band_x += [feb3 + pd.Timedelta(days=d0), feb3 + pd.Timedelta(days=d1), None]
    band_y += [14, 14, None]
fig.add_trace(go.Scatter(x=band_x, y=band_y, mode="lines", line=dict(color="#4b4b4f", width=6),
                         xaxis="x2", yaxis="y2", hoverinfo="skip", showlegend=False))
for line in nav_old_lines:
    fig.add_trace(go.Scatter(x=[feb3 + pd.Timedelta(days=p[0]) for p in line], y=[p[1] for p in line], mode="lines",
                             line=dict(color="#3f3f43", width=2.5), xaxis="x2", yaxis="y2",
                             hoverinfo="skip", showlegend=False))
fig.add_trace(go.Scatter(x=nav_x, y=nav_y, mode="lines", line=dict(color="rgba(215,215,220,0.42)", width=1.6),
                         xaxis="x2", yaxis="y2", hoverinfo="skip", showlegend=False))

shapes = []


def hline(value, color, dash="solid", width=2.5):
    shapes.append(dict(type="line", xref="x", yref="y", x0=hour_to_date(13.73), x1=hour_to_date(181.67), y0=value, y1=value,
                       line=dict(color=color, width=width, dash=dash), layer="below"))


hline(88, "#8a2035")
hline(80, "#58585c", dash="dash")
hline(72, "#2f7d3f")


def rounded(x0, y0, x1, y1, r):
    return (f"M {px(x0 + r)},{py(y0)} L {px(x1 - r)},{py(y0)} Q {px(x1)},{py(y0)} {px(x1)},{py(y0 + r)} "
            f"L {px(x1)},{py(y1 - r)} Q {px(x1)},{py(y1)} {px(x1 - r)},{py(y1)} L {px(x0 + r)},{py(y1)} "
            f"Q {px(x0)},{py(y1)} {px(x0)},{py(y1 - r)} L {px(x0)},{py(y0 + r)} Q {px(x0)},{py(y0)} {px(x0 + r)},{py(y0)} Z")


def paper_shape(kind, x0, y0, x1, y1, **kw):
    shapes.append(dict(type=kind, xref="paper", yref="paper", x0=px(x0), x1=px(x1), y0=py(y0), y1=py(y1), **kw))


# navigator backdrop and selection window
paper_shape("rect", 92, 1207, 2601, 1261, fillcolor="#201f24", line=dict(width=0), layer="below")
window = dict(color="#e4e4e6", width=4, dash="dot")
paper_shape("line", 2601, 1207, 3848, 1207, line=window)
paper_shape("line", 2601, 1261, 3848, 1261, line=window)
paper_shape("line", 2601, 1207, 2601, 1261, line=dict(color="#d8d8da", width=2.5, dash="dash"))
paper_shape("line", 3848, 1207, 3848, 1261, line=dict(color="#d8d8da", width=2.5, dash="dash"))
shapes.append(dict(type="path", xref="paper", yref="paper", fillcolor="#bdbdc2", line=dict(width=0),
                   path=f"M {px(2601)},{py(1220)} C {px(2581)},{py(1224)} {px(2581)},{py(1244)} {px(2601)},{py(1248)} Z"))
shapes.append(dict(type="path", xref="paper", yref="paper", fillcolor="#bdbdc2", line=dict(width=0),
                   path=f"M {px(3848)},{py(1220)} C {px(3868)},{py(1224)} {px(3868)},{py(1244)} {px(3848)},{py(1248)} Z"))

# page furniture around the chart
paper_shape("line", 3881.5, 6, 3881.5, 1376, line=dict(color="#333336", width=1.5))
shapes.append(dict(type="path", xref="paper", yref="paper", path=rounded(3461, 13.5, 3857.5, 62.5, 8), fillcolor="#3b3a3f",
                   line=dict(color="#5c5c60", width=1.5)))
paper_shape("line", 3744, 14, 3744, 62, line=dict(color="#5c5c60", width=1.5))
icon = dict(color="#8c8c90", width=2)
shapes.append(dict(type="path", xref="paper", yref="paper", line=icon,
                   path=f"M {px(3482)},{py(37)} L {px(3482)},{py(49.5)} L {px(3505.5)},{py(49.5)} L {px(3505.5)},{py(37)}"))
shapes.append(dict(type="path", xref="paper", yref="paper", line=icon,
                   path=f"M {px(3493.5)},{py(43)} L {px(3493.5)},{py(26)} M {px(3488)},{py(31)} L {px(3493.5)},{py(25.5)} L {px(3499)},{py(31)}"))
shapes.append(dict(type="path", xref="paper", yref="paper", path=rounded(90, 1324.5, 3848, 1374, 9),
                   line=dict(color="#5a5a5e", width=1.5)))
paper_shape("circle", 107, 1340, 124, 1357, line=dict(color="#8c8c90", width=2))
paper_shape("line", 121, 1354, 130, 1364, line=dict(color="#8c8c90", width=2))

fonts = "Noto Sans"
annotations = [
    dict(text="Memory usage per container (%)", x=px(23), y=py(39), font=dict(size=31.5, color="#d6d6d8"), xanchor="left"),
    dict(text="Save to Dashboard", x=px(3519), y=py(38), font=dict(size=23, color="#d2d2d4"), xanchor="left"),
    dict(text="More...", x=px(3763), y=py(38), font=dict(size=22.5, color="#d2d2d4"), xanchor="left"),
    dict(text="Filter series", x=px(147), y=py(1350), font=dict(size=21, color="#8a8a8e"), xanchor="left"),
]
for a in annotations:
    a.update(xref="paper", yref="paper", yanchor="middle", showarrow=False)

fig.update_layout(
    width=W, height=H, autosize=False,
    margin=dict(l=0, r=0, t=0, b=0),
    paper_bgcolor=bg, plot_bgcolor=bg,
    font=dict(family=fonts, size=18, color="#cfcfd1"),
    showlegend=False,
    shapes=shapes, annotations=annotations,
    xaxis=dict(
        domain=[px(108), px(3848)], range=[hour_to_date(13.73), hour_to_date(181.67)],
        tickmode="array", tickvals=[hour_to_date(h) for h in main_ticks], ticktext=main_tick_labels,
        ticks="outside", ticklen=9, tickwidth=1.5, tickcolor="#8c8c8e",
        showgrid=False, zeroline=False, showline=True, linecolor="#a8a8aa", linewidth=3,
        anchor="y", automargin=False,
    ),
    yaxis=dict(
        domain=[py(1162), py(108.3)], range=[0, 400], tick0=0, dtick=20,
        showgrid=True, gridcolor="#313134", gridwidth=1.5, zeroline=False, showline=False,
        ticks="", ticklabelstandoff=4, anchor="x", automargin=False,
    ),
    xaxis2=dict(
        domain=[px(108), px(3848)], range=[pd.Timestamp("2023-02-02 13:48"), pd.Timestamp("2023-02-23 13:35")],
        tickmode="array", tickvals=nav_tick_dates, ticktext=nav_tick_labels,
        ticks="outside", ticklen=8, tickwidth=1.5, tickcolor="#8c8c8e",
        showgrid=False, zeroline=False, showline=True, linecolor="#77777a", linewidth=2,
        anchor="y2", automargin=False,
    ),
    yaxis2=dict(
        domain=[py(1261), py(1207)], range=[0, 440], showgrid=False, zeroline=False, showticklabels=False,
        ticks="", anchor="x2", automargin=False,
    ),
)

fig.write_html("out.html", config={"displayModeBar": False},
               post_script="document.body.style.margin='0';document.body.style.overflow='hidden';")
